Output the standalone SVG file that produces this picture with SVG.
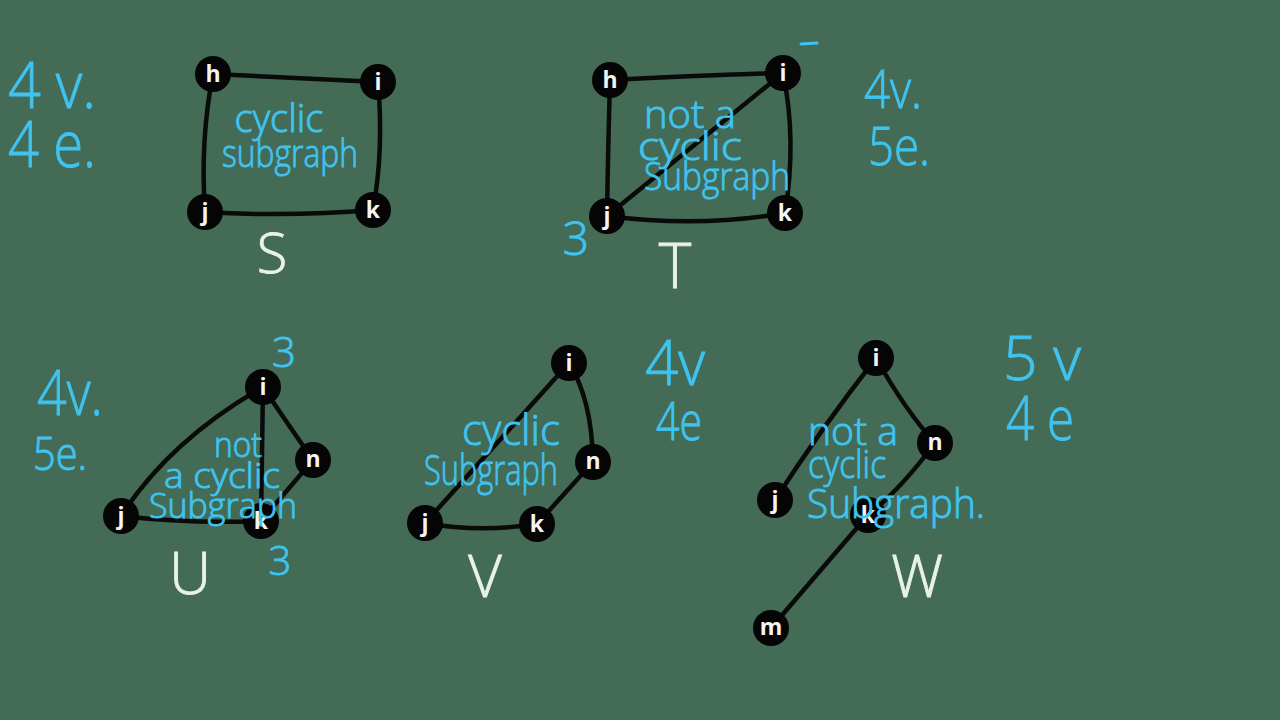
<svg xmlns="http://www.w3.org/2000/svg" width="1280" height="720" viewBox="0 0 1280 720">
<style>
.e{stroke:#0a0a0a;stroke-width:4.5;fill:none;stroke-linecap:round}
.n circle{fill:#050505}
.n text{fill:#f4f4f4;font-family:"Open Sans","Liberation Sans",sans-serif;font-weight:bold;font-size:23px;text-anchor:middle}
.b{fill:#3fc3f0;stroke:#3fc3f0;stroke-width:0.9;font-family:"Open Sans","Liberation Sans",sans-serif;font-weight:300;text-anchor:middle}
.w{fill:#e8f2e6;stroke:#e8f2e6;stroke-width:0.9;font-family:"Open Sans","Liberation Sans",sans-serif;font-weight:300;text-anchor:middle}
</style>
<rect width="1280" height="720" fill="#436b55"/>
<g id="connectors">
<path class="e" d="M213,74 Q300,78 378,82"/>
<path class="e" d="M213,74 Q200,140 205,212"/>
<path class="e" d="M378,82 Q384,150 373,210"/>
<path class="e" d="M205,212 Q290,217 373,210"/>
<path class="e" d="M610,80 Q700,75 783,73"/>
<path class="e" d="M610,80 Q608,150 607,216"/>
<path class="e" d="M783,73 Q797,140 785,213"/>
<path class="e" d="M607,216 Q700,228 785,213"/>
<path class="e" d="M607,216 L783,73"/>
<path class="e" d="M263,387 Q170,440 121,516"/>
<path class="e" d="M263,387 L261,521"/>
<path class="e" d="M263,387 Q285,420 313,460"/>
<path class="e" d="M313,460 L261,521"/>
<path class="e" d="M121,516 Q190,524 261,521"/>
<path class="e" d="M569,363 Q500,440 425,523"/>
<path class="e" d="M569,363 Q592,400 593,462"/>
<path class="e" d="M593,462 L537,524"/>
<path class="e" d="M425,523 Q480,533 537,524"/>
<path class="e" d="M876,358 Q820,430 775,500"/>
<path class="e" d="M876,358 Q905,410 935,443"/>
<path class="e" d="M935,443 Q900,490 868,515"/>
<path class="e" d="M868,515 L771,628"/>
</g>
<g id="graph-S">
<g class="n" id="S-h"><circle cx="213" cy="74" r="18"/><text x="213" y="82">h</text></g>
<g class="n" id="S-i"><circle cx="378" cy="82" r="18"/><text x="378" y="90">i</text></g>
<g class="n" id="S-j"><circle cx="205" cy="212" r="18"/><text x="205" y="220">j</text></g>
<g class="n" id="S-k"><circle cx="373" cy="210" r="18"/><text x="373" y="218">k</text></g>
<text class="b" x="279" y="132" font-size="38">cyclic</text>
<text class="b" x="290" y="167" font-size="38" textLength="136" lengthAdjust="spacingAndGlyphs">subgraph</text>
<text class="w" x="272" y="273" font-size="56">S</text>
</g>
<g id="count-S">
<text class="b" x="52" y="108" font-size="64" textLength="88" lengthAdjust="spacingAndGlyphs">4 v.</text>
<text class="b" x="52" y="167" font-size="64" textLength="88" lengthAdjust="spacingAndGlyphs">4 e.</text>
</g>
<g id="graph-T">
<g class="n" id="T-h"><circle cx="610" cy="80" r="18"/><text x="610" y="88">h</text></g>
<g class="n" id="T-i"><circle cx="783" cy="73" r="18"/><text x="783" y="81">i</text></g>
<g class="n" id="T-j"><circle cx="607" cy="216" r="18"/><text x="607" y="224">j</text></g>
<g class="n" id="T-k"><circle cx="785" cy="213" r="18"/><text x="785" y="221">k</text></g>
<text class="b" x="690" y="128" font-size="38" textLength="92" lengthAdjust="spacingAndGlyphs">not a</text>
<text class="b" x="690" y="160" font-size="38" textLength="104" lengthAdjust="spacingAndGlyphs">cyclic</text>
<text class="b" x="717" y="190" font-size="38" textLength="146" lengthAdjust="spacingAndGlyphs">Subgraph</text>
<text class="b" x="576" y="255" font-size="46">3</text>
<text class="w" x="675" y="288" font-size="62">T</text>
<line x1="801" y1="44" x2="817" y2="43" stroke="#3fc3f0" stroke-width="3" stroke-linecap="round"/>
<text class="b" x="893" y="108" font-size="54" textLength="58" lengthAdjust="spacingAndGlyphs">4v.</text>
<text class="b" x="899" y="165" font-size="54" textLength="62" lengthAdjust="spacingAndGlyphs">5e.</text>
</g>
<g id="graph-U">
<g class="n" id="U-i"><circle cx="263" cy="387" r="18"/><text x="263" y="395">i</text></g>
<g class="n" id="U-n"><circle cx="313" cy="460" r="18"/><text x="313" y="467">n</text></g>
<g class="n" id="U-j"><circle cx="121" cy="516" r="18"/><text x="121" y="524">j</text></g>
<g class="n" id="U-k"><circle cx="261" cy="521" r="18"/><text x="261" y="529">k</text></g>
<text class="b" x="284" y="367" font-size="42">3</text>
<text class="b" x="280" y="575" font-size="40">3</text>
<text class="b" x="238" y="457" font-size="34" textLength="48" lengthAdjust="spacingAndGlyphs">not</text>
<text class="b" x="222" y="488" font-size="34" textLength="116" lengthAdjust="spacingAndGlyphs">a cyclic</text>
<text class="b" x="223" y="518" font-size="34" textLength="148" lengthAdjust="spacingAndGlyphs">Subgraph</text>
<text class="w" x="190" y="594" font-size="58">U</text>
<text class="b" x="70" y="415" font-size="62" textLength="66" lengthAdjust="spacingAndGlyphs">4v.</text>
<text class="b" x="60" y="470" font-size="46" textLength="54" lengthAdjust="spacingAndGlyphs">5e.</text>
</g>
<g id="graph-V">
<g class="n" id="V-i"><circle cx="569" cy="363" r="18"/><text x="569" y="371">i</text></g>
<g class="n" id="V-n"><circle cx="593" cy="462" r="18"/><text x="593" y="469">n</text></g>
<g class="n" id="V-j"><circle cx="425" cy="523" r="18"/><text x="425" y="531">j</text></g>
<g class="n" id="V-k"><circle cx="537" cy="524" r="18"/><text x="537" y="532">k</text></g>
<text class="b" x="511" y="445" font-size="42" textLength="98" lengthAdjust="spacingAndGlyphs">cyclic</text>
<text class="b" x="491" y="485" font-size="42" textLength="134" lengthAdjust="spacingAndGlyphs">Subgraph</text>
<text class="w" x="485" y="597" font-size="58">V</text>
<text class="b" x="675" y="385" font-size="62" textLength="60" lengthAdjust="spacingAndGlyphs">4v</text>
<text class="b" x="679" y="440" font-size="54" textLength="46" lengthAdjust="spacingAndGlyphs">4e</text>
</g>
<g id="graph-W">
<g class="n" id="W-i"><circle cx="876" cy="358" r="18"/><text x="876" y="366">i</text></g>
<g class="n" id="W-n"><circle cx="935" cy="443" r="18"/><text x="935" y="450">n</text></g>
<g class="n" id="W-j"><circle cx="775" cy="500" r="18"/><text x="775" y="508">j</text></g>
<g class="n" id="W-k"><circle cx="868" cy="515" r="18"/><text x="868" y="523">k</text></g>
<g class="n" id="W-m"><circle cx="771" cy="628" r="18"/><text x="771" y="635">m</text></g>
<text class="b" x="853" y="445" font-size="38" textLength="90" lengthAdjust="spacingAndGlyphs">not a</text>
<text class="b" x="847" y="478" font-size="38" textLength="78" lengthAdjust="spacingAndGlyphs">cyclic</text>
<text class="b" x="896" y="518" font-size="40" textLength="178" lengthAdjust="spacingAndGlyphs">Subgraph.</text>
<text class="w" x="917" y="597" font-size="58">W</text>
<text class="b" x="1042" y="380" font-size="60" textLength="78" lengthAdjust="spacingAndGlyphs">5 v</text>
<text class="b" x="1040" y="440" font-size="60" textLength="68" lengthAdjust="spacingAndGlyphs">4 e</text>
</g>
</svg>
